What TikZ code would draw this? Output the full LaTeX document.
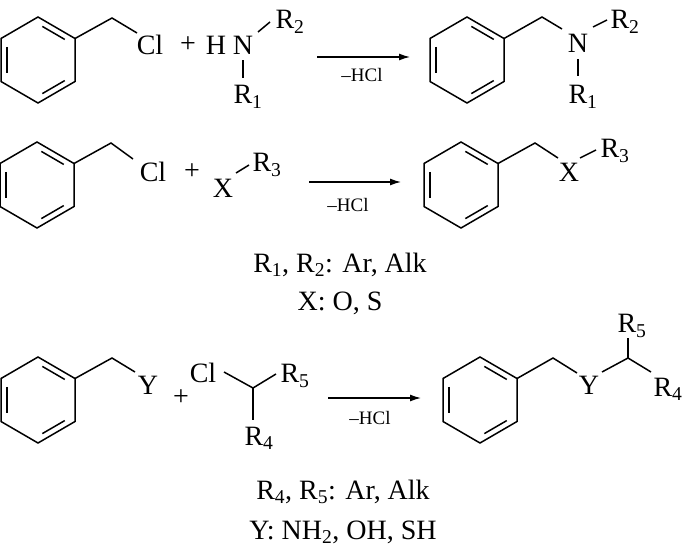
\documentclass[tikz,border=0pt]{standalone}
\usepackage{fontspec}
\setmainfont{Liberation Serif}
\usetikzlibrary{calc,arrows.meta}
\newcommand\benzring[3]{%
  \coordinate (#1c) at (#2,#3);
  \coordinate (#1t) at (#2,#3-43);
  \coordinate (#1tr) at (#2+37,#3-21.5);
  \coordinate (#1br) at (#2+37,#3+21.5);
  \coordinate (#1b) at (#2,#3+43);
  \coordinate (#1bl) at (#2-37,#3+21.5);
  \coordinate (#1tl) at (#2-37,#3-21.5);
  \draw[bond] (#1t)--(#1tr)--(#1br)--(#1b)--(#1bl)--(#1tl)--cycle;
  \draw[bond,shorten >=5pt,shorten <=5pt] ($(#1c)!0.84!(#1tl)$)--($(#1c)!0.84!(#1bl)$);
  \draw[bond,shorten >=5pt,shorten <=5pt] ($(#1c)!0.84!(#1t)$)--($(#1c)!0.84!(#1tr)$);
  \draw[bond,shorten >=5pt,shorten <=5pt] ($(#1c)!0.84!(#1br)$)--($(#1c)!0.84!(#1b)$);
}
\begin{document}
\begin{tikzpicture}[x=1pt,y=-1pt,
  bond/.style={line width=1.5pt,line join=miter},
  atm/.style={font=\fontsize{28}{30}\selectfont,inner sep=0pt},
  sm/.style={font=\fontsize{19}{21}\selectfont,inner sep=0pt},
  rarrow/.style={line width=1.3pt,-{Latex[length=11pt,width=7pt]}}]
\useasboundingbox (0,0) rectangle (685,554);
% ---------- row 1
\benzring{a}{38}{60}
\coordinate (a1) at (112,18);
\draw[bond] (atr)--(a1)--(137,33);
\node[atm] (cl1) at (150,45) {Cl};
\node[atm] (p1) at (188,45) {+};
\node[atm] (h1) at (216,45) {H};
\node[atm] (n1) at (243,45) {N};
\node[atm] (r2a) at (290,22) {R\textsubscript{2}};
\node[atm] (r1a) at (248,97) {R\textsubscript{1}};
\draw[bond] (258,32)--(270,22);
\draw[bond] (243,60)--(243,78);
\coordinate (ar1s) at (317,57); \coordinate (ar1e) at (410,57);
\draw[rarrow] (ar1s)--(ar1e);
\node[sm] (hcl1) at (362,75) {–HCl};
\benzring{b}{467}{60}
\draw[bond] (btr)--(542,17)--(562,29);
\node[atm] (n2) at (578,43) {N};
\draw[bond] (593,27)--(607,20);
\node[atm] (r2b) at (625,22) {R\textsubscript{2}};
\draw[bond] (578,59)--(578,76);
\node[atm] (r1b) at (583,97) {R\textsubscript{1}};
% ---------- row 2
\benzring{c}{37}{185}
\draw[bond] (ctr)--(111,143)--(133,159);
\node[atm] (cl2) at (153,172) {Cl};
\node[atm] (p2) at (192,172) {+};
\node[atm] (x1) at (223,188) {X};
\draw[bond] (236,173)--(249,165);
\node[atm] (r3a) at (267,165) {R\textsubscript{3}};
\draw[rarrow] (309,182)--(401,182);
\node[sm] (hcl2) at (348,205) {–HCl};
\benzring{d}{461}{185}
\draw[bond] (dtr)--(535,143)--(558,158);
\node[atm] (x2) at (569,172) {X};
\draw[bond] (580,158)--(596,150);
\node[atm] (r3b) at (615,151) {R\textsubscript{3}};
\node[atm] (lab1) at (340,265) {R\textsubscript{1}, R\textsubscript{2}: Ar, Alk};
\node[atm] (lab2) at (340,303) {X: O, S};
% ---------- row 3
\benzring{e}{38}{400}
\draw[bond] (etr)--(112,358)--(135,372);
\node[atm] (y1) at (148,385) {Y};
\node[atm] (p3) at (181,398) {+};
\node[atm] (cl3) at (203,373) {Cl};
\coordinate (c3) at (253,388);
\draw[bond] (224,372)--(c3)--(276,374);
\draw[bond] (c3)--(253,420);
\node[atm] (r5a) at (295,376) {R\textsubscript{5}};
\node[atm] (r4a) at (259,438) {R\textsubscript{4}};
\draw[rarrow] (328,398)--(421,398);
\node[sm] (hcl3) at (370,418) {–HCl};
\benzring{f}{480}{400}
\draw[bond] (ftr)--(553,358)--(577,373);
\node[atm] (y2) at (589,385) {Y};
\coordinate (c4) at (628,358);
\draw[bond] (602,372)--(c4)--(651,372);
\draw[bond] (c4)--(628,338);
\node[atm] (r5b) at (632,326) {R\textsubscript{5}};
\node[atm] (r4b) at (668,389) {R\textsubscript{4}};
\node[atm] (lab3) at (343,492) {R\textsubscript{4}, R\textsubscript{5}: Ar, Alk};
\node[atm] (lab4) at (343,532) {Y: NH\textsubscript{2}, OH, SH};
\end{tikzpicture}
\end{document}
